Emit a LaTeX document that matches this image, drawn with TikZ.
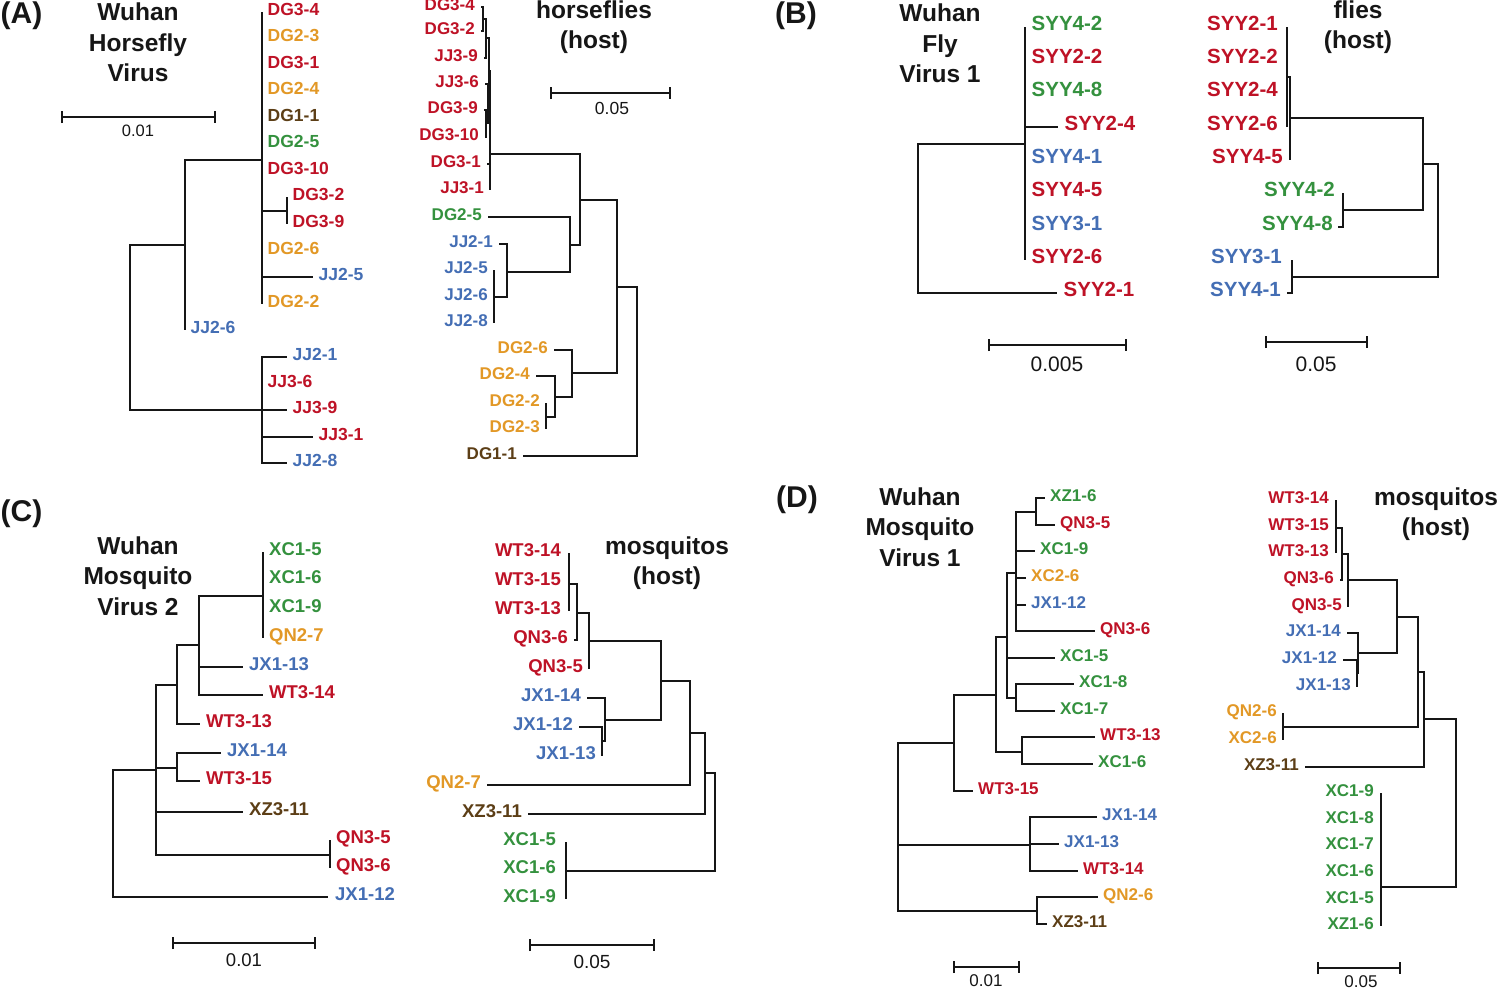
\documentclass[tikz,border=0pt]{standalone}
\usepackage{fontspec}
\setmainfont{Liberation Sans}
\usetikzlibrary{arrows.meta}
\definecolor{hred}{RGB}{190,18,38}
\definecolor{horange}{RGB}{226,152,38}
\definecolor{hgreen}{RGB}{52,145,62}
\definecolor{hblue}{RGB}{68,110,180}
\definecolor{hbrown}{RGB}{92,62,22}
\definecolor{hblack}{RGB}{22,22,22}
\begin{document}
\begin{tikzpicture}[x=1pt,y=-1pt,
  br/.style={line width=2pt,draw=hblack},
  tipL/.style={anchor=west,inner xsep=#1,inner ysep=0pt,text height=.72em,text depth=0pt},
  tipL/.default=5.5pt,
  tipR/.style={anchor=east,inner xsep=#1,inner ysep=0pt,text height=.72em,text depth=0pt},
  tipR/.default=6pt,
  cred/.style={text=hred}, corg/.style={text=horange}, cgrn/.style={text=hgreen},
  cblu/.style={text=hblue}, cbrn/.style={text=hbrown},
  ttl/.style={font=\bfseries\fontsize{24.5}{30.5}\selectfont,align=center,text=hblack},
  pnl/.style={font=\bfseries\fontsize{30}{30}\selectfont,text=hblack},
  sbar/.style={line width=2pt,draw=hblack,{Bar[width=12pt]}-{Bar[width=12pt]}},
  snum/.style={text=hblack,font=\fontsize{#1}{#1}\selectfont}
] % Four virus / host tree pairs
\useasboundingbox (0,0) rectangle (1500,989);

\node[pnl] at (21.5,16) {(A)};
\node[pnl] at (796,16) {(B)};
\node[pnl] at (21.5,514) {(C)};
\node[pnl] at (797,500) {(D)};

\node[ttl] at (138,42.5) {Wuhan\\Horsefly\\Virus};
\node[ttl] at (594,27) {horseflies\\(host)};
\node[ttl] at (940,43.5) {Wuhan\\Fly\\Virus 1};
\node[ttl] at (1358,27) {flies\\(host)};
\node[ttl] at (138,576) {Wuhan\\Mosquito\\Virus 2};
\node[ttl] at (667,563) {mosquitos\\(host)};
\node[ttl] at (920,527) {Wuhan\\Mosquito\\Virus 1};
\node[ttl] at (1436,514) {mosquitos\\(host)};

% scale bars
\draw[sbar] (61,117) -- (216,117);    \node[snum=16.5] at (138,131) {0.01};
\draw[sbar] (550,93) -- (671,93);     \node[snum=17.5] at (612,108) {0.05};
\draw[sbar] (988,345) -- (1127,345);  \node[snum=21] at (1057,364) {0.005};
\draw[sbar] (1265,342) -- (1368,342); \node[snum=21] at (1316,364) {0.05};
\draw[sbar] (172,943) -- (316,943);   \node[snum=18.5] at (244,960) {0.01};
\draw[sbar] (529,945) -- (655,945);   \node[snum=19] at (592,962) {0.05};
\draw[sbar] (953,967) -- (1020,967);  \node[snum=17] at (986,981) {0.01};
\draw[sbar] (1317,968) -- (1401,968); \node[snum=17] at (1361,982) {0.05};

% (A) virus tree
\coordinate (Av0) at (130,327);
\coordinate (Av1) at (262,160);
\coordinate (Av2) at (287,211);
\coordinate (Av3) at (185,245);
\coordinate (Av4) at (262,410);
\begin{scope}[every node/.append style={font=\bfseries\fontsize{17.5}{17.5}\selectfont}]
\node[tipL,cred] (AvDG34) at (262,12) {DG3-4};
\node[tipL,corg] (AvDG23) at (262,38) {DG2-3};
\node[tipL,cred] (AvDG31) at (262,65) {DG3-1};
\node[tipL,corg] (AvDG24) at (262,91) {DG2-4};
\node[tipL,cbrn] (AvDG11) at (262,118) {DG1-1};
\node[tipL,cgrn] (AvDG25) at (262,144) {DG2-5};
\node[tipL,cred] (AvDG310) at (262,171) {DG3-10};
\node[tipL,cred] (AvDG32) at (287,197) {DG3-2};
\node[tipL,cred] (AvDG39) at (287,224) {DG3-9};
\node[tipL,corg] (AvDG26) at (262,251) {DG2-6};
\node[tipL,cblu] (AvJJ25) at (313,277) {JJ2-5};
\node[tipL,corg] (AvDG22) at (262,304) {DG2-2};
\node[tipL,cblu] (AvJJ26) at (185,330) {JJ2-6};
\node[tipL,cblu] (AvJJ21) at (287,357) {JJ2-1};
\node[tipL,cred] (AvJJ36) at (262,384) {JJ3-6};
\node[tipL,cred] (AvJJ39) at (287,410) {JJ3-9};
\node[tipL,cred] (AvJJ31) at (313,437) {JJ3-1};
\node[tipL,cblu] (AvJJ28) at (287,463) {JJ2-8};
\end{scope}
\draw[br] (Av1) -- (AvDG34.west) (Av1) -- (AvDG22.west) (Av1) |- (AvJJ25.west);
\draw[br] (Av1) |- (Av2) (Av2) -- (AvDG32.west) (Av2) -- (AvDG39.west);
\draw[br] (Av3) |- (Av1) (Av3) -- (AvJJ26.west);
\draw[br] (Av4) |- (AvJJ21.west) (Av4) |- (AvJJ28.west) (Av4) -- (AvJJ39.west) (Av4) |- (AvJJ31.west);
\draw[br] (Av0) |- (Av3) (Av0) |- (Av4);

% (A) host tree
\coordinate (Ah0) at (637,371);
\coordinate (Ah1) at (483,19);
\coordinate (Ah2) at (486,38);
\coordinate (Ah3) at (486,123);
\coordinate (Ah4) at (488,104);
\coordinate (Ah5) at (489,71);
\coordinate (Ah6) at (490,154);
\coordinate (Ah7) at (494,297);
\coordinate (Ah8) at (507,272);
\coordinate (Ah9) at (570,245);
\coordinate (Ah10) at (580,200);
\coordinate (Ah11) at (546,417);
\coordinate (Ah12) at (555,397);
\coordinate (Ah13) at (572,373);
\coordinate (Ah14) at (617,287);
\begin{scope}[every node/.append style={font=\bfseries\fontsize{17}{17}\selectfont}]
\node[tipR,cred] (AhDG34) at (481,7) {DG3-4};
\node[tipR,cred] (AhDG32) at (481,31) {DG3-2};
\node[tipR,cred] (AhJJ39) at (484,58) {JJ3-9};
\node[tipR,cred] (AhJJ36) at (485,84) {JJ3-6};
\node[tipR,cred] (AhDG39) at (484,110) {DG3-9};
\node[tipR,cred] (AhDG310) at (485,137) {DG3-10};
\node[tipR,cred] (AhDG31) at (487,164) {DG3-1};
\node[tipR,cred] (AhJJ31) at (490,190) {JJ3-1};
\node[tipR,cgrn] (AhDG25) at (488,217) {DG2-5};
\node[tipR,cblu] (AhJJ21) at (499,244) {JJ2-1};
\node[tipR,cblu] (AhJJ25) at (494,270) {JJ2-5};
\node[tipR,cblu] (AhJJ26) at (494,297) {JJ2-6};
\node[tipR,cblu] (AhJJ28) at (494,323) {JJ2-8};
\node[tipR,corg] (AhDG26) at (554,350) {DG2-6};
\node[tipR,corg] (AhDG24) at (536,376) {DG2-4};
\node[tipR,corg] (AhDG22) at (546,403) {DG2-2};
\node[tipR,corg] (AhDG23) at (546,429) {DG2-3};
\node[tipR,cbrn] (AhDG11) at (523,456) {DG1-1};
\end{scope}
\draw[br] (Ah1) |- (AhDG34.east) (Ah1) |- (AhDG32.east);
\draw[br] (Ah2) |- (Ah1) (Ah2) |- (AhJJ39.east);
\draw[br] (Ah3) |- (AhDG39.east) (Ah3) |- (AhDG310.east);
\draw[br] (Ah4) |- (AhJJ36.east) (Ah4) |- (Ah3);
\draw[br] (Ah5) |- (Ah2) (Ah5) |- (Ah4);
\draw[br] (Ah6) |- (Ah5) (Ah6) |- (AhDG31.east) (Ah6) -- (AhJJ31.east);
\draw[br] (Ah7) -- (AhJJ25.east) (Ah7) -- (AhJJ28.east);
\draw[br] (Ah8) |- (AhJJ21.east) (Ah8) |- (Ah7);
\draw[br] (Ah9) |- (AhDG25.east) (Ah9) |- (Ah8);
\draw[br] (Ah10) |- (Ah6) (Ah10) |- (Ah9);
\draw[br] (Ah11) -- (AhDG22.east) (Ah11) -- (AhDG23.east);
\draw[br] (Ah12) |- (AhDG24.east) (Ah12) |- (Ah11);
\draw[br] (Ah13) |- (AhDG26.east) (Ah13) |- (Ah12);
\draw[br] (Ah14) |- (Ah10) (Ah14) |- (Ah13);
\draw[br] (Ah0) |- (Ah14) (Ah0) |- (AhDG11.east);

% (B) virus tree
\coordinate (Bv0) at (918,218);
\coordinate (Bv1) at (1025,144);
\begin{scope}[every node/.append style={font=\bfseries\fontsize{20.5}{20.5}\selectfont}]
\node[tipL=6.5pt,cgrn] (BvSYY42) at (1025,27) {SYY4-2};
\node[tipL=6.5pt,cred] (BvSYY22) at (1025,60) {SYY2-2};
\node[tipL=6.5pt,cgrn] (BvSYY48) at (1025,93) {SYY4-8};
\node[tipL=6.5pt,cred] (BvSYY24) at (1058,127) {SYY2-4};
\node[tipL=6.5pt,cblu] (BvSYY41) at (1025,160) {SYY4-1};
\node[tipL=6.5pt,cred] (BvSYY45) at (1025,193) {SYY4-5};
\node[tipL=6.5pt,cblu] (BvSYY31) at (1025,227) {SYY3-1};
\node[tipL=6.5pt,cred] (BvSYY26) at (1025,260) {SYY2-6};
\node[tipL=6.5pt,cred] (BvSYY21) at (1057,293) {SYY2-1};
\end{scope}
\draw[br] (Bv1) -- (BvSYY42.west) (Bv1) -- (BvSYY26.west) (Bv1) |- (BvSYY24.west);
\draw[br] (Bv0) |- (Bv1) (Bv0) |- (BvSYY21.west);

% (B) host tree
\coordinate (Bh0) at (1438,220);
\coordinate (Bh1) at (1287,77);
\coordinate (Bh2) at (1290,118);
\coordinate (Bh3) at (1343,210);
\coordinate (Bh4) at (1423,164);
\coordinate (Bh5) at (1292,277);
\begin{scope}[every node/.append style={font=\bfseries\fontsize{20.5}{20.5}\selectfont}]
\node[tipR=9pt,cred] (BhSYY21) at (1287,27) {SYY2-1};
\node[tipR=9pt,cred] (BhSYY22) at (1287,60) {SYY2-2};
\node[tipR=9pt,cred] (BhSYY24) at (1287,93) {SYY2-4};
\node[tipR=9pt,cred] (BhSYY26) at (1287,127) {SYY2-6};
\node[tipR=7pt,cred] (BhSYY45) at (1290,160) {SYY4-5};
\node[tipR=8pt,cgrn] (BhSYY42) at (1343,193) {SYY4-2};
\node[tipR=5pt,cgrn] (BhSYY48) at (1338,227) {SYY4-8};
\node[tipR=10pt,cblu] (BhSYY31) at (1292,260) {SYY3-1};
\node[tipR=6pt,cblu] (BhSYY41) at (1287,293) {SYY4-1};
\end{scope}
\draw[br] (Bh1) -- (BhSYY21.east) (Bh1) -- (BhSYY26.east);
\draw[br] (Bh2) |- (Bh1) (Bh2) -- (BhSYY45.east);
\draw[br] (Bh3) -- (BhSYY42.east) (Bh3) |- (BhSYY48.east);
\draw[br] (Bh4) |- (Bh2) (Bh4) |- (Bh3);
\draw[br] (Bh5) -- (BhSYY31.east) (Bh5) |- (BhSYY41.east);
\draw[br] (Bh0) |- (Bh4) (Bh0) |- (Bh5);

% (C) virus tree
\coordinate (Cv0) at (113,834);
\coordinate (Cv1) at (263,596);
\coordinate (Cv2) at (199,645);
\coordinate (Cv3) at (177,685);
\coordinate (Cv4) at (177,768);
\coordinate (Cv5) at (330,855);
\coordinate (Cv6) at (156,770);
\begin{scope}[every node/.append style={font=\bfseries\fontsize{18.5}{18.5}\selectfont}]
\node[tipL=6pt,cgrn] (CvXC15) at (263,552) {XC1-5};
\node[tipL=6pt,cgrn] (CvXC16) at (263,580) {XC1-6};
\node[tipL=6pt,cgrn] (CvXC19) at (263,609) {XC1-9};
\node[tipL=6pt,corg] (CvQN27) at (263,638) {QN2-7};
\node[tipL=6pt,cblu] (CvJX113) at (243,667) {JX1-13};
\node[tipL=6pt,cred] (CvWT314) at (263,695) {WT3-14};
\node[tipL=6pt,cred] (CvWT313) at (200,724) {WT3-13};
\node[tipL=6pt,cblu] (CvJX114) at (221,753) {JX1-14};
\node[tipL=6pt,cred] (CvWT315) at (200,781) {WT3-15};
\node[tipL=6pt,cbrn] (CvXZ311) at (243,812) {XZ3-11};
\node[tipL=6pt,cred] (CvQN35) at (330,840) {QN3-5};
\node[tipL=6pt,cred] (CvQN36) at (330,868) {QN3-6};
\node[tipL=7pt,cblu] (CvJX112) at (328,897) {JX1-12};
\end{scope}
\draw[br] (Cv1) -- (CvXC15.west) (Cv1) -- (CvQN27.west);
\draw[br] (Cv2) |- (Cv1) (Cv2) |- (CvJX113.west) (Cv2) |- (CvWT314.west);
\draw[br] (Cv3) |- (Cv2) (Cv3) |- (CvWT313.west);
\draw[br] (Cv4) |- (CvJX114.west) (Cv4) |- (CvWT315.west);
\draw[br] (Cv5) -- (CvQN35.west) (Cv5) -- (CvQN36.west);
\draw[br] (Cv6) |- (Cv3) (Cv6) |- (Cv4) (Cv6) |- (CvXZ311.west) (Cv6) |- (Cv5);
\draw[br] (Cv0) |- (Cv6) (Cv0) |- (CvJX112.west);

% (C) host tree
\coordinate (Ch0) at (715,822);
\coordinate (Ch1) at (569,584);
\coordinate (Ch2) at (577,613);
\coordinate (Ch3) at (589,641);
\coordinate (Ch4) at (602,741);
\coordinate (Ch5) at (605,720);
\coordinate (Ch6) at (661,681);
\coordinate (Ch7) at (690,733);
\coordinate (Ch8) at (705,773);
\coordinate (Ch9) at (566,871);
\begin{scope}[every node/.append style={font=\bfseries\fontsize{18.5}{18.5}\selectfont}]
\node[tipR=8pt,cred] (ChWT314) at (569,553) {WT3-14};
\node[tipR=8pt,cred] (ChWT315) at (569,582) {WT3-15};
\node[tipR=8pt,cred] (ChWT313) at (569,611) {WT3-13};
\node[tipR,cred] (ChQN36) at (574,640) {QN3-6};
\node[tipR,cred] (ChQN35) at (589,669) {QN3-5};
\node[tipR,cblu] (ChJX114) at (587,698) {JX1-14};
\node[tipR,cblu] (ChJX112) at (579,727) {JX1-12};
\node[tipR,cblu] (ChJX113) at (602,756) {JX1-13};
\node[tipR,corg] (ChQN27) at (487,785) {QN2-7};
\node[tipR,cbrn] (ChXZ311) at (528,814) {XZ3-11};
\node[tipR=10pt,cgrn] (ChXC15) at (566,842) {XC1-5};
\node[tipR=10pt,cgrn] (ChXC16) at (566,870) {XC1-6};
\node[tipR=10pt,cgrn] (ChXC19) at (566,899) {XC1-9};
\end{scope}
\draw[br] (Ch1) -- (ChWT314.east) (Ch1) -- (ChWT313.east);
\draw[br] (Ch2) |- (Ch1) (Ch2) |- (ChQN36.east);
\draw[br] (Ch3) |- (Ch2) (Ch3) -- (ChQN35.east);
\draw[br] (Ch4) |- (ChJX112.east) (Ch4) -- (ChJX113.east);
\draw[br] (Ch5) |- (ChJX114.east) (Ch5) |- (Ch4);
\draw[br] (Ch6) |- (Ch3) (Ch6) |- (Ch5);
\draw[br] (Ch7) |- (Ch6) (Ch7) |- (ChQN27.east);
\draw[br] (Ch8) |- (Ch7) (Ch8) |- (ChXZ311.east);
\draw[br] (Ch9) -- (ChXC15.east) (Ch9) -- (ChXC19.east);
\draw[br] (Ch0) |- (Ch8) (Ch0) |- (Ch9);

% (D) virus tree
\coordinate (Dv0) at (898,827);
\coordinate (Dv1) at (1036,512);
\coordinate (Dv2) at (1016,573);
\coordinate (Dv3) at (1016,698);
\coordinate (Dv4) at (1007,637);
\coordinate (Dv5) at (1022,752);
\coordinate (Dv6) at (996,695);
\coordinate (Dv7) at (954,743);
\coordinate (Dv8) at (1030,845);
\coordinate (Dv9) at (1037,911);
\begin{scope}[every node/.append style={font=\bfseries\fontsize{17}{17}\selectfont}]
\node[tipL=5pt,cgrn] (DvXZ16) at (1045,498) {XZ1-6};
\node[tipL=5pt,cred] (DvQN35) at (1055,525) {QN3-5};
\node[tipL=5pt,cgrn] (DvXC19) at (1035,551) {XC1-9};
\node[tipL=5pt,corg] (DvXC26) at (1026,578) {XC2-6};
\node[tipL=5pt,cblu] (DvJX112) at (1026,605) {JX1-12};
\node[tipL=5pt,cred] (DvQN36) at (1095,631) {QN3-6};
\node[tipL=5pt,cgrn] (DvXC15) at (1055,658) {XC1-5};
\node[tipL=5pt,cgrn] (DvXC18) at (1074,684) {XC1-8};
\node[tipL=5pt,cgrn] (DvXC17) at (1055,711) {XC1-7};
\node[tipL=5pt,cred] (DvWT313) at (1095,737) {WT3-13};
\node[tipL=5pt,cgrn] (DvXC16) at (1093,764) {XC1-6};
\node[tipL=5pt,cred] (DvWT315) at (973,791) {WT3-15};
\node[tipL=5pt,cblu] (DvJX114) at (1097,817) {JX1-14};
\node[tipL=5pt,cblu] (DvJX113) at (1059,844) {JX1-13};
\node[tipL=5pt,cred] (DvWT314) at (1078,871) {WT3-14};
\node[tipL=5pt,corg] (DvQN26) at (1098,897) {QN2-6};
\node[tipL=5pt,cbrn] (DvXZ311) at (1047,924) {XZ3-11};
\end{scope}
\draw[br] (Dv1) |- (DvXZ16.west) (Dv1) |- (DvQN35.west);
\draw[br] (Dv2) |- (Dv1) (Dv2) |- (DvXC19.west) (Dv2) |- (DvXC26.west) (Dv2) |- (DvJX112.west) (Dv2) |- (DvQN36.west);
\draw[br] (Dv3) |- (DvXC18.west) (Dv3) |- (DvXC17.west);
\draw[br] (Dv4) |- (Dv2) (Dv4) |- (DvXC15.west) (Dv4) |- (Dv3);
\draw[br] (Dv5) |- (DvWT313.west) (Dv5) |- (DvXC16.west);
\draw[br] (Dv6) |- (Dv4) (Dv6) |- (Dv5);
\draw[br] (Dv7) |- (Dv6) (Dv7) |- (DvWT315.west);
\draw[br] (Dv8) |- (DvJX114.west) (Dv8) |- (DvJX113.west) (Dv8) |- (DvWT314.west);
\draw[br] (Dv9) |- (DvQN26.west) (Dv9) |- (DvXZ311.west);
\draw[br] (Dv0) |- (Dv7) (Dv0) |- (Dv8) (Dv0) |- (Dv9);

% (D) host tree
\coordinate (Dh0) at (1456,803);
\coordinate (Dh1) at (1336,528);
\coordinate (Dh2) at (1342,554);
\coordinate (Dh3) at (1348,580);
\coordinate (Dh4) at (1357,673);
\coordinate (Dh5) at (1358,653);
\coordinate (Dh6) at (1397,617);
\coordinate (Dh7) at (1283,727);
\coordinate (Dh8) at (1418,672);
\coordinate (Dh9) at (1424,719);
\coordinate (Dh10) at (1381,887);
\begin{scope}[every node/.append style={font=\bfseries\fontsize{17}{17}\selectfont}]
\node[tipR=7pt,cred] (DhWT314) at (1336,500) {WT3-14};
\node[tipR=7pt,cred] (DhWT315) at (1336,527) {WT3-15};
\node[tipR=7pt,cred] (DhWT313) at (1336,553) {WT3-13};
\node[tipR,cred] (DhQN36) at (1340,580) {QN3-6};
\node[tipR,cred] (DhQN35) at (1348,607) {QN3-5};
\node[tipR,cblu] (DhJX114) at (1347,633) {JX1-14};
\node[tipR,cblu] (DhJX112) at (1343,660) {JX1-12};
\node[tipR,cblu] (DhJX113) at (1357,687) {JX1-13};
\node[tipR,corg] (DhQN26) at (1283,713) {QN2-6};
\node[tipR,corg] (DhXC26) at (1283,740) {XC2-6};
\node[tipR,cbrn] (DhXZ311) at (1305,767) {XZ3-11};
\node[tipR=7pt,cgrn] (DhXC19) at (1381,793) {XC1-9};
\node[tipR=7pt,cgrn] (DhXC18) at (1381,820) {XC1-8};
\node[tipR=7pt,cgrn] (DhXC17) at (1381,846) {XC1-7};
\node[tipR=7pt,cgrn] (DhXC16) at (1381,873) {XC1-6};
\node[tipR=7pt,cgrn] (DhXC15) at (1381,900) {XC1-5};
\node[tipR=7pt,cgrn] (DhXZ16) at (1381,926) {XZ1-6};
\end{scope}
\draw[br] (Dh1) -- (DhWT314.east) (Dh1) -- (DhWT313.east);
\draw[br] (Dh2) |- (Dh1) (Dh2) |- (DhQN36.east);
\draw[br] (Dh3) |- (Dh2) (Dh3) -- (DhQN35.east);
\draw[br] (Dh4) |- (DhJX112.east) (Dh4) -- (DhJX113.east);
\draw[br] (Dh5) |- (DhJX114.east) (Dh5) |- (Dh4);
\draw[br] (Dh6) |- (Dh3) (Dh6) |- (Dh5);
\draw[br] (Dh7) -- (DhQN26.east) (Dh7) -- (DhXC26.east);
\draw[br] (Dh8) |- (Dh6) (Dh8) |- (Dh7);
\draw[br] (Dh9) |- (Dh8) (Dh9) |- (DhXZ311.east);
\draw[br] (Dh10) -- (DhXC19.east) (Dh10) -- (DhXZ16.east);
\draw[br] (Dh0) |- (Dh9) (Dh0) |- (Dh10);
\end{tikzpicture}
\end{document}
